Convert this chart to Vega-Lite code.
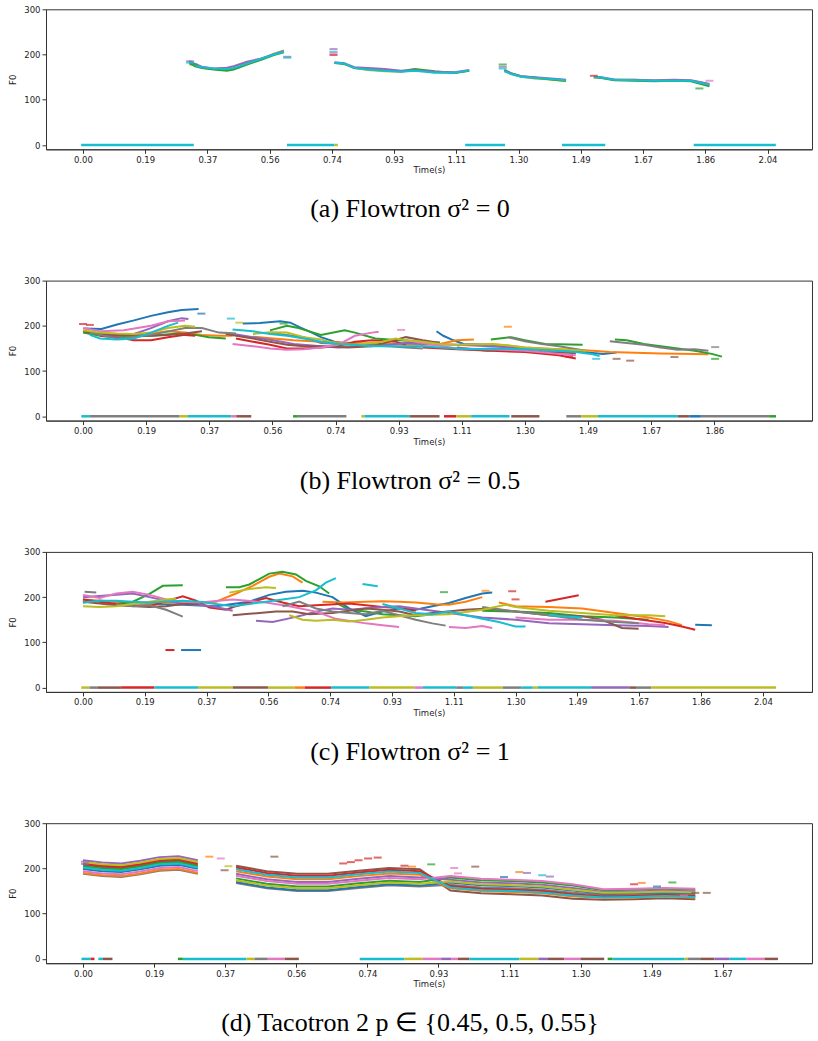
{
"$schema":"https://vega.github.io/schema/vega-lite/v6.json",
"padding":{"left":8,"top":4.3,"right":5,"bottom":5},
"spacing":52.3,
"config":{
 "view":{"stroke":"#333","strokeWidth":1},
 "axis":{"labelFont":"DejaVu Sans","labelFontSize":8.5,"labelColor":"#222","titleFont":"DejaVu Sans","titleFontSize":8.5,"titleFontWeight":"normal","titleColor":"#222","tickColor":"#333","domainColor":"#333","tickSize":4,"labelPadding":2,"grid":false,"labelFlush":false,"labelOverlap":false},
 "axisY":{"titlePadding":6},
 "axisX":{"titlePadding":2},
 "title":{"font":"Liberation Serif","fontSize":26,"fontWeight":"normal","color":"#000","orient":"bottom","anchor":"middle","offset":22,"dx":-19}
},
"datasets":{
"za":[{"s":9,"a":-0.005,"b":0.331},{"s":9,"a":0.609,"b":0.75},{"s":8,"a":0.75,"b":0.761},{"s":9,"a":1.141,"b":1.26},{"s":9,"a":1.43,"b":1.559},{"s":9,"a":1.823,"b":2.068}],
"la":[
{"s":8,"g":1,"t":0.318,"f":184},{"s":8,"g":1,"t":0.335,"f":177},{"s":8,"g":1,"t":0.355,"f":171},{"s":8,"g":1,"t":0.39,"f":168},{"s":8,"g":1,"t":0.43,"f":166},{"s":8,"g":1,"t":0.45,"f":168},{"s":8,"g":1,"t":0.49,"f":181},{"s":8,"g":1,"t":0.53,"f":189},{"s":8,"g":1,"t":0.57,"f":202},{"s":8,"g":1,"t":0.6,"f":209},
{"s":8,"g":2,"t":0.751,"f":182},{"s":8,"g":2,"t":0.78,"f":180},{"s":8,"g":2,"t":0.81,"f":170},{"s":8,"g":2,"t":0.85,"f":166},{"s":8,"g":2,"t":0.9,"f":163},{"s":8,"g":2,"t":0.95,"f":162},{"s":8,"g":2,"t":0.99,"f":166},{"s":8,"g":2,"t":1.05,"f":161},{"s":8,"g":2,"t":1.11,"f":160},{"s":8,"g":2,"t":1.153,"f":164},
{"s":8,"g":3,"t":1.258,"f":164},{"s":8,"g":3,"t":1.278,"f":157},{"s":8,"g":3,"t":1.308,"f":151},{"s":8,"g":3,"t":1.348,"f":147},{"s":8,"g":3,"t":1.397,"f":145},{"s":8,"g":3,"t":1.442,"f":141},
{"s":8,"g":4,"t":1.525,"f":150},{"s":8,"g":4,"t":1.547,"f":149},{"s":8,"g":4,"t":1.586,"f":144},{"s":8,"g":4,"t":1.646,"f":144},{"s":8,"g":4,"t":1.705,"f":142},{"s":8,"g":4,"t":1.765,"f":143},{"s":8,"g":4,"t":1.815,"f":142},{"s":8,"g":4,"t":1.845,"f":138},{"s":8,"g":4,"t":1.87,"f":134},
{"s":2,"g":1,"t":0.318,"f":181},{"s":2,"g":1,"t":0.335,"f":174},{"s":2,"g":1,"t":0.355,"f":170},{"s":2,"g":1,"t":0.39,"f":167},{"s":2,"g":1,"t":0.43,"f":164},{"s":2,"g":1,"t":0.45,"f":167},{"s":2,"g":1,"t":0.49,"f":178},{"s":2,"g":1,"t":0.53,"f":188},{"s":2,"g":1,"t":0.57,"f":199},{"s":2,"g":1,"t":0.6,"f":205},
{"s":2,"g":2,"t":0.751,"f":181},{"s":2,"g":2,"t":0.78,"f":179},{"s":2,"g":2,"t":0.81,"f":171},{"s":2,"g":2,"t":0.85,"f":168},{"s":2,"g":2,"t":0.9,"f":165},{"s":2,"g":2,"t":0.95,"f":163},{"s":2,"g":2,"t":0.99,"f":168},{"s":2,"g":2,"t":1.05,"f":163},{"s":2,"g":2,"t":1.11,"f":159},{"s":2,"g":2,"t":1.153,"f":164},
{"s":2,"g":3,"t":1.258,"f":166},{"s":2,"g":3,"t":1.278,"f":159},{"s":2,"g":3,"t":1.308,"f":152},{"s":2,"g":3,"t":1.348,"f":149},{"s":2,"g":3,"t":1.397,"f":145},{"s":2,"g":3,"t":1.442,"f":142},
{"s":2,"g":4,"t":1.525,"f":150},{"s":2,"g":4,"t":1.547,"f":148},{"s":2,"g":4,"t":1.586,"f":143},{"s":2,"g":4,"t":1.646,"f":142},{"s":2,"g":4,"t":1.705,"f":141},{"s":2,"g":4,"t":1.765,"f":142},{"s":2,"g":4,"t":1.815,"f":141},{"s":2,"g":4,"t":1.845,"f":135},{"s":2,"g":4,"t":1.87,"f":130},
{"s":4,"g":1,"t":0.318,"f":186},{"s":4,"g":1,"t":0.335,"f":179},{"s":4,"g":1,"t":0.355,"f":173},{"s":4,"g":1,"t":0.39,"f":169},{"s":4,"g":1,"t":0.43,"f":171},{"s":4,"g":1,"t":0.45,"f":174},{"s":4,"g":1,"t":0.49,"f":184},{"s":4,"g":1,"t":0.53,"f":191},{"s":4,"g":1,"t":0.57,"f":201},{"s":4,"g":1,"t":0.6,"f":208},
{"s":4,"g":2,"t":0.751,"f":183},{"s":4,"g":2,"t":0.78,"f":181},{"s":4,"g":2,"t":0.81,"f":172},{"s":4,"g":2,"t":0.85,"f":170},{"s":4,"g":2,"t":0.9,"f":168},{"s":4,"g":2,"t":0.95,"f":164},{"s":4,"g":2,"t":0.99,"f":165},{"s":4,"g":2,"t":1.05,"f":162},{"s":4,"g":2,"t":1.11,"f":161},{"s":4,"g":2,"t":1.153,"f":166},
{"s":4,"g":3,"t":1.258,"f":165},{"s":4,"g":3,"t":1.278,"f":158},{"s":4,"g":3,"t":1.308,"f":152},{"s":4,"g":3,"t":1.348,"f":150},{"s":4,"g":3,"t":1.397,"f":147},{"s":4,"g":3,"t":1.442,"f":144},
{"s":4,"g":4,"t":1.525,"f":151},{"s":4,"g":4,"t":1.547,"f":150},{"s":4,"g":4,"t":1.586,"f":145},{"s":4,"g":4,"t":1.646,"f":144},{"s":4,"g":4,"t":1.705,"f":143},{"s":4,"g":4,"t":1.765,"f":144},{"s":4,"g":4,"t":1.815,"f":143},{"s":4,"g":4,"t":1.845,"f":139},{"s":4,"g":4,"t":1.87,"f":135},
{"s":9,"g":1,"t":0.318,"f":183},{"s":9,"g":1,"t":0.335,"f":176},{"s":9,"g":1,"t":0.355,"f":172},{"s":9,"g":1,"t":0.39,"f":169},{"s":9,"g":1,"t":0.43,"f":168},{"s":9,"g":1,"t":0.45,"f":170},{"s":9,"g":1,"t":0.49,"f":180},{"s":9,"g":1,"t":0.53,"f":190},{"s":9,"g":1,"t":0.57,"f":200},{"s":9,"g":1,"t":0.6,"f":206},
{"s":9,"g":2,"t":0.751,"f":182},{"s":9,"g":2,"t":0.78,"f":180},{"s":9,"g":2,"t":0.81,"f":170},{"s":9,"g":2,"t":0.85,"f":167},{"s":9,"g":2,"t":0.9,"f":164},{"s":9,"g":2,"t":0.95,"f":162},{"s":9,"g":2,"t":0.99,"f":164},{"s":9,"g":2,"t":1.05,"f":160},{"s":9,"g":2,"t":1.11,"f":160},{"s":9,"g":2,"t":1.153,"f":165},
{"s":9,"g":3,"t":1.258,"f":163},{"s":9,"g":3,"t":1.278,"f":157},{"s":9,"g":3,"t":1.308,"f":151},{"s":9,"g":3,"t":1.348,"f":148},{"s":9,"g":3,"t":1.397,"f":146},{"s":9,"g":3,"t":1.442,"f":143},
{"s":9,"g":4,"t":1.525,"f":150},{"s":9,"g":4,"t":1.547,"f":149},{"s":9,"g":4,"t":1.586,"f":144},{"s":9,"g":4,"t":1.646,"f":143},{"s":9,"g":4,"t":1.705,"f":142},{"s":9,"g":4,"t":1.765,"f":142},{"s":9,"g":4,"t":1.815,"f":142},{"s":9,"g":4,"t":1.845,"f":137},{"s":9,"g":4,"t":1.87,"f":133}
],
"ka":[{"s":4,"t":0.32,"f":185},{"s":9,"t":0.32,"f":182},{"s":2,"t":0.33,"f":178},{"s":4,"t":0.61,"f":195},{"s":9,"t":0.61,"f":193},{"s":4,"t":0.748,"f":212},{"s":9,"t":0.748,"f":206},{"s":6,"t":0.748,"f":203},{"s":3,"t":0.748,"f":199},{"s":2,"t":1.253,"f":178},{"s":4,"t":1.253,"f":173},{"s":9,"t":1.253,"f":169},{"s":3,"t":1.525,"f":153},{"s":2,"t":1.84,"f":125},{"s":6,"t":1.87,"f":142}],
"zb":[{"s":9,"a":-0.005,"b":0.02},{"s":7,"a":0.02,"b":0.284},{"s":8,"a":0.284,"b":0.309},{"s":9,"a":0.309,"b":0.436},{"s":6,"a":0.436,"b":0.451},{"s":5,"a":0.451,"b":0.495},{"s":2,"a":0.618,"b":0.632},{"s":7,"a":0.632,"b":0.775},{"s":8,"a":0.819,"b":0.828},{"s":9,"a":0.828,"b":0.961},{"s":5,"a":0.961,"b":1.049},{"s":3,"a":1.062,"b":1.098},{"s":8,"a":1.098,"b":1.142},{"s":9,"a":1.142,"b":1.255},{"s":5,"a":1.26,"b":1.343},{"s":7,"a":1.422,"b":1.466},{"s":8,"a":1.466,"b":1.515},{"s":9,"a":1.515,"b":1.75},{"s":5,"a":1.75,"b":1.784},{"s":0,"a":1.784,"b":1.818},{"s":7,"a":1.818,"b":2.019},{"s":2,"a":2.019,"b":2.039}],
"lb":[
{"s":0,"g":1,"t":0.005,"f":194},{"s":0,"g":1,"t":0.054,"f":193},{"s":0,"g":1,"t":0.1,"f":203},{"s":0,"g":1,"t":0.15,"f":212},{"s":0,"g":1,"t":0.2,"f":222},{"s":0,"g":1,"t":0.25,"f":230},{"s":0,"g":1,"t":0.29,"f":235},{"s":0,"g":1,"t":0.34,"f":237},
{"s":0,"g":2,"t":0.47,"f":205},{"s":0,"g":2,"t":0.52,"f":206},{"s":0,"g":2,"t":0.58,"f":210},{"s":0,"g":2,"t":0.61,"f":207},{"s":0,"g":2,"t":0.64,"f":196},{"s":0,"g":2,"t":0.67,"f":186},{"s":0,"g":2,"t":0.7,"f":175},{"s":0,"g":2,"t":0.74,"f":165},{"s":0,"g":2,"t":0.78,"f":160},{"s":0,"g":2,"t":0.85,"f":158},{"s":0,"g":2,"t":0.93,"f":160},{"s":0,"g":2,"t":0.98,"f":165},
{"s":0,"g":3,"t":1.04,"f":188},{"s":0,"g":3,"t":1.06,"f":178},{"s":0,"g":3,"t":1.09,"f":168},{"s":0,"g":3,"t":1.12,"f":160},{"s":0,"g":3,"t":1.2,"f":158},{"s":0,"g":3,"t":1.25,"f":152},{"s":0,"g":3,"t":1.3,"f":150},{"s":0,"g":3,"t":1.4,"f":146},{"s":0,"g":3,"t":1.45,"f":144},{"s":0,"g":3,"t":1.5,"f":140},{"s":0,"g":3,"t":1.53,"f":138},{"s":0,"g":3,"t":1.57,"f":141},
{"s":1,"g":1,"t":0.0,"f":188},{"s":1,"g":1,"t":0.05,"f":182},{"s":1,"g":1,"t":0.1,"f":180},{"s":1,"g":1,"t":0.15,"f":181},{"s":1,"g":1,"t":0.2,"f":183},{"s":1,"g":1,"t":0.25,"f":188},{"s":1,"g":1,"t":0.3,"f":185},{"s":1,"g":1,"t":0.35,"f":180},{"s":1,"g":1,"t":0.4,"f":178},{"s":1,"g":1,"t":0.44,"f":178},
{"s":1,"g":2,"t":0.5,"f":176},{"s":1,"g":2,"t":0.56,"f":172},{"s":1,"g":2,"t":0.62,"f":168},{"s":1,"g":2,"t":0.7,"f":165},{"s":1,"g":2,"t":0.8,"f":162},{"s":1,"g":2,"t":0.9,"f":160},{"s":1,"g":2,"t":1.0,"f":158},{"s":1,"g":2,"t":1.05,"f":160},{"s":1,"g":2,"t":1.1,"f":168},{"s":1,"g":2,"t":1.15,"f":170},
{"s":1,"g":3,"t":1.2,"f":160},{"s":1,"g":3,"t":1.3,"f":152},{"s":1,"g":3,"t":1.4,"f":148},{"s":1,"g":3,"t":1.5,"f":145},{"s":1,"g":3,"t":1.55,"f":142},{"s":1,"g":3,"t":1.6,"f":141},{"s":1,"g":3,"t":1.7,"f":139},{"s":1,"g":3,"t":1.8,"f":138},{"s":1,"g":3,"t":1.84,"f":137},
{"s":2,"g":1,"t":0.0,"f":185},{"s":2,"g":1,"t":0.05,"f":178},{"s":2,"g":1,"t":0.1,"f":175},{"s":2,"g":1,"t":0.2,"f":178},{"s":2,"g":1,"t":0.28,"f":183},{"s":2,"g":1,"t":0.33,"f":180},{"s":2,"g":1,"t":0.37,"f":175},{"s":2,"g":1,"t":0.42,"f":172},
{"s":2,"g":2,"t":0.55,"f":190},{"s":2,"g":2,"t":0.6,"f":200},{"s":2,"g":2,"t":0.63,"f":196},{"s":2,"g":2,"t":0.7,"f":180},{"s":2,"g":2,"t":0.77,"f":190},{"s":2,"g":2,"t":0.8,"f":185},{"s":2,"g":2,"t":0.86,"f":172},{"s":2,"g":2,"t":0.93,"f":168},{"s":2,"g":2,"t":1.0,"f":165},{"s":2,"g":2,"t":1.05,"f":163},
{"s":2,"g":3,"t":1.2,"f":170},{"s":2,"g":3,"t":1.26,"f":175},{"s":2,"g":3,"t":1.3,"f":168},{"s":2,"g":3,"t":1.36,"f":160},{"s":2,"g":3,"t":1.47,"f":158},
{"s":2,"g":4,"t":1.565,"f":170},{"s":2,"g":4,"t":1.6,"f":168},{"s":2,"g":4,"t":1.65,"f":160},{"s":2,"g":4,"t":1.7,"f":155},{"s":2,"g":4,"t":1.75,"f":150},{"s":2,"g":4,"t":1.8,"f":145},{"s":2,"g":4,"t":1.85,"f":138},{"s":2,"g":4,"t":1.88,"f":132},
{"s":3,"g":1,"t":0.05,"f":178},{"s":3,"g":1,"t":0.1,"f":175},{"s":3,"g":1,"t":0.15,"f":168},{"s":3,"g":1,"t":0.2,"f":168},{"s":3,"g":1,"t":0.25,"f":175},{"s":3,"g":1,"t":0.3,"f":180},{"s":3,"g":1,"t":0.33,"f":178},
{"s":3,"g":2,"t":0.45,"f":172},{"s":3,"g":2,"t":0.5,"f":165},{"s":3,"g":2,"t":0.55,"f":158},{"s":3,"g":2,"t":0.6,"f":150},{"s":3,"g":2,"t":0.65,"f":150},{"s":3,"g":2,"t":0.7,"f":152},{"s":3,"g":2,"t":0.75,"f":155},{"s":3,"g":2,"t":0.8,"f":165},{"s":3,"g":2,"t":0.85,"f":168},{"s":3,"g":2,"t":0.92,"f":165},{"s":3,"g":2,"t":0.95,"f":158},
{"s":3,"g":3,"t":1.0,"f":152},{"s":3,"g":3,"t":1.1,"f":148},{"s":3,"g":3,"t":1.2,"f":145},{"s":3,"g":3,"t":1.3,"f":142},{"s":3,"g":3,"t":1.4,"f":135},{"s":3,"g":3,"t":1.45,"f":128},
{"s":4,"g":1,"t":0.0,"f":190},{"s":4,"g":1,"t":0.05,"f":180},{"s":4,"g":1,"t":0.1,"f":178},{"s":4,"g":1,"t":0.15,"f":182},{"s":4,"g":1,"t":0.2,"f":195},{"s":4,"g":1,"t":0.25,"f":210},{"s":4,"g":1,"t":0.29,"f":217},{"s":4,"g":1,"t":0.31,"f":215},
{"s":4,"g":2,"t":0.42,"f":185},{"s":4,"g":2,"t":0.5,"f":175},{"s":4,"g":2,"t":0.56,"f":168},{"s":4,"g":2,"t":0.62,"f":160},{"s":4,"g":2,"t":0.7,"f":155},{"s":4,"g":2,"t":0.75,"f":152},{"s":4,"g":2,"t":0.8,"f":155},{"s":4,"g":2,"t":0.9,"f":158},{"s":4,"g":2,"t":0.95,"f":162},{"s":4,"g":2,"t":1.0,"f":160},{"s":4,"g":2,"t":1.1,"f":158},{"s":4,"g":2,"t":1.2,"f":155},{"s":4,"g":2,"t":1.3,"f":150},{"s":4,"g":2,"t":1.4,"f":145},{"s":4,"g":2,"t":1.45,"f":140},
{"s":5,"g":1,"t":0.0,"f":188},{"s":5,"g":1,"t":0.05,"f":182},{"s":5,"g":1,"t":0.1,"f":180},{"s":5,"g":1,"t":0.15,"f":180},{"s":5,"g":1,"t":0.2,"f":178},{"s":5,"g":1,"t":0.25,"f":180},{"s":5,"g":1,"t":0.3,"f":183},{"s":5,"g":1,"t":0.35,"f":188},
{"s":5,"g":2,"t":0.42,"f":182},{"s":5,"g":2,"t":0.5,"f":172},{"s":5,"g":2,"t":0.55,"f":165},{"s":5,"g":2,"t":0.6,"f":158},{"s":5,"g":2,"t":0.65,"f":155},{"s":5,"g":2,"t":0.7,"f":155},{"s":5,"g":2,"t":0.78,"f":152},{"s":5,"g":2,"t":0.85,"f":155},{"s":5,"g":2,"t":0.9,"f":165},{"s":5,"g":2,"t":0.95,"f":175},{"s":5,"g":2,"t":1.0,"f":168},{"s":5,"g":2,"t":1.05,"f":162},
{"s":5,"g":3,"t":1.1,"f":152},{"s":5,"g":3,"t":1.19,"f":145},{"s":5,"g":3,"t":1.25,"f":148},{"s":5,"g":3,"t":1.35,"f":142},{"s":5,"g":3,"t":1.45,"f":140},
{"s":6,"g":1,"t":0.0,"f":195},{"s":6,"g":1,"t":0.05,"f":188},{"s":6,"g":1,"t":0.12,"f":190},{"s":6,"g":1,"t":0.2,"f":200},{"s":6,"g":1,"t":0.25,"f":210},{"s":6,"g":1,"t":0.3,"f":212},
{"s":6,"g":2,"t":0.44,"f":160},{"s":6,"g":2,"t":0.5,"f":155},{"s":6,"g":2,"t":0.55,"f":150},{"s":6,"g":2,"t":0.6,"f":147},{"s":6,"g":2,"t":0.65,"f":148},{"s":6,"g":2,"t":0.7,"f":152},{"s":6,"g":2,"t":0.75,"f":158},{"s":6,"g":2,"t":0.8,"f":178},{"s":6,"g":2,"t":0.85,"f":185},{"s":6,"g":2,"t":0.87,"f":187},
{"s":6,"g":3,"t":0.95,"f":168},{"s":6,"g":3,"t":1.0,"f":162},{"s":6,"g":3,"t":1.1,"f":150},{"s":6,"g":3,"t":1.2,"f":148},{"s":6,"g":3,"t":1.3,"f":145},{"s":6,"g":3,"t":1.4,"f":138},{"s":6,"g":3,"t":1.45,"f":135},
{"s":7,"g":1,"t":0.02,"f":185},{"s":7,"g":1,"t":0.1,"f":172},{"s":7,"g":1,"t":0.2,"f":180},{"s":7,"g":1,"t":0.3,"f":195},{"s":7,"g":1,"t":0.35,"f":195},{"s":7,"g":1,"t":0.4,"f":185},{"s":7,"g":1,"t":0.45,"f":183},
{"s":7,"g":2,"t":0.55,"f":185},{"s":7,"g":2,"t":0.6,"f":180},{"s":7,"g":2,"t":0.65,"f":175},{"s":7,"g":2,"t":0.7,"f":162},{"s":7,"g":2,"t":0.8,"f":158},{"s":7,"g":2,"t":0.9,"f":155},{"s":7,"g":2,"t":0.95,"f":152},{"s":7,"g":2,"t":1.0,"f":150},
{"s":7,"g":3,"t":1.25,"f":175},{"s":7,"g":3,"t":1.3,"f":166},{"s":7,"g":3,"t":1.35,"f":160},{"s":7,"g":3,"t":1.4,"f":155},{"s":7,"g":3,"t":1.48,"f":145},
{"s":7,"g":4,"t":1.55,"f":166},{"s":7,"g":4,"t":1.6,"f":162},{"s":7,"g":4,"t":1.65,"f":158},{"s":7,"g":4,"t":1.7,"f":152},{"s":7,"g":4,"t":1.75,"f":147},{"s":7,"g":4,"t":1.8,"f":148},{"s":7,"g":4,"t":1.84,"f":145},
{"s":8,"g":1,"t":0.0,"f":190},{"s":8,"g":1,"t":0.05,"f":185},{"s":8,"g":1,"t":0.1,"f":183},{"s":8,"g":1,"t":0.15,"f":182},{"s":8,"g":1,"t":0.2,"f":185},{"s":8,"g":1,"t":0.25,"f":195},{"s":8,"g":1,"t":0.3,"f":200},{"s":8,"g":1,"t":0.33,"f":198},
{"s":8,"g":2,"t":0.5,"f":182},{"s":8,"g":2,"t":0.55,"f":186},{"s":8,"g":2,"t":0.6,"f":185},{"s":8,"g":2,"t":0.65,"f":175},{"s":8,"g":2,"t":0.7,"f":170},{"s":8,"g":2,"t":0.75,"f":160},{"s":8,"g":2,"t":0.8,"f":158},{"s":8,"g":2,"t":0.88,"f":165},{"s":8,"g":2,"t":0.92,"f":172},{"s":8,"g":2,"t":0.95,"f":168},{"s":8,"g":2,"t":1.0,"f":165},{"s":8,"g":2,"t":1.05,"f":160},{"s":8,"g":2,"t":1.1,"f":158},{"s":8,"g":2,"t":1.2,"f":160},{"s":8,"g":2,"t":1.25,"f":157},{"s":8,"g":2,"t":1.3,"f":152},{"s":8,"g":2,"t":1.35,"f":150},{"s":8,"g":2,"t":1.48,"f":145},
{"s":9,"g":1,"t":0.02,"f":180},{"s":9,"g":1,"t":0.05,"f":172},{"s":9,"g":1,"t":0.1,"f":170},{"s":9,"g":1,"t":0.15,"f":172},{"s":9,"g":1,"t":0.2,"f":185},{"s":9,"g":1,"t":0.25,"f":200},{"s":9,"g":1,"t":0.28,"f":207},
{"s":9,"g":2,"t":0.44,"f":192},{"s":9,"g":2,"t":0.5,"f":188},{"s":9,"g":2,"t":0.55,"f":182},{"s":9,"g":2,"t":0.6,"f":178},{"s":9,"g":2,"t":0.65,"f":172},{"s":9,"g":2,"t":0.7,"f":165},{"s":9,"g":2,"t":0.75,"f":160},{"s":9,"g":2,"t":0.8,"f":158},{"s":9,"g":2,"t":0.85,"f":155},{"s":9,"g":2,"t":0.9,"f":155},{"s":9,"g":2,"t":0.95,"f":155},{"s":9,"g":2,"t":1.0,"f":155},{"s":9,"g":2,"t":1.05,"f":152},{"s":9,"g":2,"t":1.1,"f":150},{"s":9,"g":2,"t":1.15,"f":148},{"s":9,"g":2,"t":1.2,"f":150},{"s":9,"g":2,"t":1.3,"f":148},{"s":9,"g":2,"t":1.4,"f":145},{"s":9,"g":2,"t":1.45,"f":142},{"s":9,"g":2,"t":1.5,"f":137},{"s":9,"g":2,"t":1.52,"f":133}
],
"kb":[{"s":0,"t":0.348,"f":227},{"s":1,"t":1.25,"f":198},{"s":2,"t":0.59,"f":205},{"s":2,"t":1.86,"f":127},{"s":3,"t":0.0,"f":204},{"s":3,"t":0.02,"f":202},{"s":3,"t":1.43,"f":132},{"s":5,"t":1.57,"f":127},{"s":5,"t":1.61,"f":123},{"s":5,"t":1.74,"f":131},{"s":6,"t":0.936,"f":191},{"s":7,"t":1.86,"f":153},{"s":8,"t":0.46,"f":207},{"s":9,"t":0.435,"f":216},{"s":9,"t":1.51,"f":127}],
"zc":[{"s":8,"a":-0.005,"b":0.02},{"s":7,"a":0.02,"b":0.045},{"s":5,"a":0.045,"b":0.115},{"s":3,"a":0.115,"b":0.215},{"s":9,"a":0.215,"b":0.346},{"s":8,"a":0.346,"b":0.451},{"s":5,"a":0.451,"b":0.556},{"s":8,"a":0.556,"b":0.636},{"s":1,"a":0.636,"b":0.666},{"s":3,"a":0.666,"b":0.746},{"s":9,"a":0.746,"b":0.861},{"s":8,"a":0.861,"b":0.997},{"s":6,"a":0.997,"b":1.022},{"s":9,"a":1.022,"b":1.122},{"s":7,"a":1.122,"b":1.142},{"s":9,"a":1.142,"b":1.172},{"s":8,"a":1.172,"b":1.262},{"s":7,"a":1.262,"b":1.317},{"s":9,"a":1.317,"b":1.352},{"s":8,"a":1.352,"b":1.367},{"s":9,"a":1.367,"b":1.527},{"s":4,"a":1.527,"b":1.642},{"s":5,"a":1.642,"b":1.662},{"s":7,"a":1.662,"b":1.708},{"s":8,"a":1.708,"b":2.083}],
"lc":[
{"s":0,"g":1,"t":0.0,"f":188},{"s":0,"g":1,"t":0.05,"f":192},{"s":0,"g":1,"t":0.1,"f":190},{"s":0,"g":1,"t":0.15,"f":188},{"s":0,"g":1,"t":0.2,"f":185},{"s":0,"g":1,"t":0.3,"f":183},{"s":0,"g":1,"t":0.4,"f":180},{"s":0,"g":1,"t":0.5,"f":190},{"s":0,"g":1,"t":0.56,"f":205},{"s":0,"g":1,"t":0.61,"f":212},{"s":0,"g":1,"t":0.66,"f":214},{"s":0,"g":1,"t":0.7,"f":210},{"s":0,"g":1,"t":0.75,"f":200},{"s":0,"g":1,"t":0.8,"f":175},{"s":0,"g":1,"t":0.85,"f":158},{"s":0,"g":1,"t":0.9,"f":168},{"s":0,"g":1,"t":0.95,"f":175},{"s":0,"g":1,"t":1.0,"f":172},{"s":0,"g":1,"t":1.05,"f":180},{"s":0,"g":1,"t":1.1,"f":187},{"s":0,"g":1,"t":1.15,"f":198},{"s":0,"g":1,"t":1.2,"f":208},{"s":0,"g":1,"t":1.23,"f":210},
{"s":0,"g":2,"t":0.295,"f":83},{"s":0,"g":2,"t":0.355,"f":83},
{"s":0,"g":3,"t":1.84,"f":139},{"s":0,"g":3,"t":1.89,"f":138},
{"s":1,"g":1,"t":0.0,"f":195},{"s":1,"g":1,"t":0.1,"f":190},{"s":1,"g":1,"t":0.2,"f":185},{"s":1,"g":1,"t":0.3,"f":190},{"s":1,"g":1,"t":0.35,"f":187},{"s":1,"g":1,"t":0.4,"f":190},{"s":1,"g":1,"t":0.46,"f":208},{"s":1,"g":1,"t":0.51,"f":225},{"s":1,"g":1,"t":0.56,"f":245},{"s":1,"g":1,"t":0.59,"f":252},{"s":1,"g":1,"t":0.63,"f":246},{"s":1,"g":1,"t":0.66,"f":232},
{"s":1,"g":2,"t":0.72,"f":190},{"s":1,"g":2,"t":0.78,"f":188},{"s":1,"g":2,"t":0.85,"f":190},{"s":1,"g":2,"t":0.9,"f":191},{"s":1,"g":2,"t":0.95,"f":190},{"s":1,"g":2,"t":1.0,"f":188},{"s":1,"g":2,"t":1.06,"f":184},{"s":1,"g":2,"t":1.1,"f":183},{"s":1,"g":2,"t":1.15,"f":190},{"s":1,"g":2,"t":1.2,"f":200},
{"s":1,"g":3,"t":1.25,"f":188},{"s":1,"g":3,"t":1.3,"f":180},{"s":1,"g":3,"t":1.4,"f":178},{"s":1,"g":3,"t":1.5,"f":175},{"s":1,"g":3,"t":1.6,"f":165},{"s":1,"g":3,"t":1.7,"f":155},{"s":1,"g":3,"t":1.76,"f":147},{"s":1,"g":3,"t":1.8,"f":138},
{"s":2,"g":1,"t":0.1,"f":185},{"s":2,"g":1,"t":0.15,"f":190},{"s":2,"g":1,"t":0.2,"f":207},{"s":2,"g":1,"t":0.24,"f":225},{"s":2,"g":1,"t":0.3,"f":226},
{"s":2,"g":2,"t":0.43,"f":222},{"s":2,"g":2,"t":0.47,"f":222},{"s":2,"g":2,"t":0.5,"f":228},{"s":2,"g":2,"t":0.53,"f":240},{"s":2,"g":2,"t":0.56,"f":252},{"s":2,"g":2,"t":0.6,"f":256},{"s":2,"g":2,"t":0.64,"f":250},{"s":2,"g":2,"t":0.67,"f":236},{"s":2,"g":2,"t":0.71,"f":224},{"s":2,"g":2,"t":0.74,"f":208},
{"s":2,"g":3,"t":0.76,"f":188},{"s":2,"g":3,"t":0.8,"f":172},{"s":2,"g":3,"t":0.85,"f":168},{"s":2,"g":3,"t":0.9,"f":162},{"s":2,"g":3,"t":0.95,"f":160},{"s":2,"g":3,"t":1.0,"f":158},{"s":2,"g":3,"t":1.05,"f":162},
{"s":2,"g":4,"t":1.2,"f":170},{"s":2,"g":4,"t":1.3,"f":168},{"s":2,"g":4,"t":1.4,"f":165},{"s":2,"g":4,"t":1.5,"f":158},{"s":2,"g":4,"t":1.6,"f":155},{"s":2,"g":4,"t":1.7,"f":150},
{"s":3,"g":1,"t":0.0,"f":195},{"s":3,"g":1,"t":0.1,"f":185},{"s":3,"g":1,"t":0.2,"f":180},{"s":3,"g":1,"t":0.3,"f":202},{"s":3,"g":1,"t":0.34,"f":192},{"s":3,"g":1,"t":0.38,"f":177},{"s":3,"g":1,"t":0.43,"f":172},{"s":3,"g":1,"t":0.46,"f":180},{"s":3,"g":1,"t":0.55,"f":198},{"s":3,"g":1,"t":0.6,"f":188},{"s":3,"g":1,"t":0.65,"f":180},{"s":3,"g":1,"t":0.7,"f":182},{"s":3,"g":1,"t":0.8,"f":186},{"s":3,"g":1,"t":0.85,"f":182},{"s":3,"g":1,"t":0.9,"f":178},{"s":3,"g":1,"t":0.95,"f":176},{"s":3,"g":1,"t":1.0,"f":170},
{"s":3,"g":2,"t":0.248,"f":83},{"s":3,"g":2,"t":0.275,"f":83},
{"s":3,"g":3,"t":1.39,"f":190},{"s":3,"g":3,"t":1.44,"f":197},{"s":3,"g":3,"t":1.49,"f":204},
{"s":3,"g":4,"t":1.6,"f":160},{"s":3,"g":4,"t":1.66,"f":152},{"s":3,"g":4,"t":1.75,"f":143},{"s":3,"g":4,"t":1.8,"f":135},{"s":3,"g":4,"t":1.84,"f":128},
{"s":4,"g":1,"t":0.0,"f":200},{"s":4,"g":1,"t":0.1,"f":205},{"s":4,"g":1,"t":0.15,"f":208},{"s":4,"g":1,"t":0.2,"f":200},{"s":4,"g":1,"t":0.25,"f":192},{"s":4,"g":1,"t":0.3,"f":185},{"s":4,"g":1,"t":0.35,"f":183},{"s":4,"g":1,"t":0.4,"f":178},{"s":4,"g":1,"t":0.45,"f":170},
{"s":4,"g":2,"t":0.52,"f":148},{"s":4,"g":2,"t":0.57,"f":145},{"s":4,"g":2,"t":0.62,"f":153},{"s":4,"g":2,"t":0.66,"f":160},{"s":4,"g":2,"t":0.7,"f":168},{"s":4,"g":2,"t":0.75,"f":175},{"s":4,"g":2,"t":0.8,"f":172},{"s":4,"g":2,"t":0.9,"f":178},{"s":4,"g":2,"t":0.95,"f":180},{"s":4,"g":2,"t":1.0,"f":175},{"s":4,"g":2,"t":1.1,"f":165},{"s":4,"g":2,"t":1.2,"f":155},{"s":4,"g":2,"t":1.3,"f":150},{"s":4,"g":2,"t":1.4,"f":142},{"s":4,"g":2,"t":1.5,"f":140},{"s":4,"g":2,"t":1.6,"f":138},{"s":4,"g":2,"t":1.7,"f":136},{"s":4,"g":2,"t":1.76,"f":134},
{"s":5,"g":1,"t":0.0,"f":190},{"s":5,"g":1,"t":0.1,"f":182},{"s":5,"g":1,"t":0.2,"f":178},{"s":5,"g":1,"t":0.25,"f":180},{"s":5,"g":1,"t":0.3,"f":185},{"s":5,"g":1,"t":0.35,"f":185},
{"s":5,"g":2,"t":0.45,"f":160},{"s":5,"g":2,"t":0.5,"f":163},{"s":5,"g":2,"t":0.58,"f":168},{"s":5,"g":2,"t":0.63,"f":168},{"s":5,"g":2,"t":0.68,"f":162},{"s":5,"g":2,"t":0.75,"f":165},{"s":5,"g":2,"t":0.85,"f":175},{"s":5,"g":2,"t":0.9,"f":172},{"s":5,"g":2,"t":0.95,"f":168},{"s":5,"g":2,"t":1.0,"f":160},{"s":5,"g":2,"t":1.05,"f":165},{"s":5,"g":2,"t":1.15,"f":172},{"s":5,"g":2,"t":1.22,"f":175},{"s":5,"g":2,"t":1.3,"f":168},{"s":5,"g":2,"t":1.4,"f":160},{"s":5,"g":2,"t":1.5,"f":158},{"s":5,"g":2,"t":1.56,"f":150},{"s":5,"g":2,"t":1.62,"f":132},{"s":5,"g":2,"t":1.67,"f":130},
{"s":6,"g":1,"t":0.0,"f":205},{"s":6,"g":1,"t":0.05,"f":198},{"s":6,"g":1,"t":0.1,"f":208},{"s":6,"g":1,"t":0.15,"f":212},{"s":6,"g":1,"t":0.2,"f":205},{"s":6,"g":1,"t":0.25,"f":195},{"s":6,"g":1,"t":0.3,"f":190},{"s":6,"g":1,"t":0.35,"f":188},{"s":6,"g":1,"t":0.45,"f":195},{"s":6,"g":1,"t":0.55,"f":188},{"s":6,"g":1,"t":0.62,"f":180},{"s":6,"g":1,"t":0.7,"f":168},{"s":6,"g":1,"t":0.76,"f":152},{"s":6,"g":1,"t":0.85,"f":142},{"s":6,"g":1,"t":0.9,"f":138},{"s":6,"g":1,"t":0.95,"f":134},
{"s":6,"g":2,"t":1.1,"f":134},{"s":6,"g":2,"t":1.15,"f":132},{"s":6,"g":2,"t":1.2,"f":136},{"s":6,"g":2,"t":1.23,"f":132},
{"s":6,"g":3,"t":1.3,"f":155},{"s":6,"g":3,"t":1.4,"f":150},{"s":6,"g":3,"t":1.5,"f":150},{"s":6,"g":3,"t":1.6,"f":148},{"s":6,"g":3,"t":1.7,"f":140},{"s":6,"g":3,"t":1.75,"f":138},
{"s":7,"g":1,"t":0.005,"f":212},{"s":7,"g":1,"t":0.04,"f":210},
{"s":7,"g":2,"t":0.1,"f":185},{"s":7,"g":2,"t":0.15,"f":180},{"s":7,"g":2,"t":0.2,"f":182},{"s":7,"g":2,"t":0.25,"f":172},{"s":7,"g":2,"t":0.28,"f":163},{"s":7,"g":2,"t":0.3,"f":157},
{"s":7,"g":3,"t":0.6,"f":180},{"s":7,"g":3,"t":0.65,"f":190},{"s":7,"g":3,"t":0.7,"f":175},{"s":7,"g":3,"t":0.75,"f":168},{"s":7,"g":3,"t":0.8,"f":165},{"s":7,"g":3,"t":0.85,"f":162},{"s":7,"g":3,"t":0.9,"f":170},{"s":7,"g":3,"t":0.95,"f":160},{"s":7,"g":3,"t":1.0,"f":150},{"s":7,"g":3,"t":1.05,"f":142},{"s":7,"g":3,"t":1.09,"f":137},
{"s":7,"g":4,"t":1.2,"f":178},{"s":7,"g":4,"t":1.3,"f":168},{"s":7,"g":4,"t":1.4,"f":160},{"s":7,"g":4,"t":1.5,"f":150},{"s":7,"g":4,"t":1.6,"f":145},{"s":7,"g":4,"t":1.67,"f":142},
{"s":8,"g":1,"t":0.0,"f":180},{"s":8,"g":1,"t":0.05,"f":178},{"s":8,"g":1,"t":0.1,"f":180},{"s":8,"g":1,"t":0.15,"f":185},{"s":8,"g":1,"t":0.2,"f":190},{"s":8,"g":1,"t":0.25,"f":195},{"s":8,"g":1,"t":0.28,"f":197},
{"s":8,"g":2,"t":0.44,"f":210},{"s":8,"g":2,"t":0.5,"f":218},{"s":8,"g":2,"t":0.55,"f":222},{"s":8,"g":2,"t":0.58,"f":220},
{"s":8,"g":3,"t":0.62,"f":160},{"s":8,"g":3,"t":0.66,"f":150},{"s":8,"g":3,"t":0.7,"f":148},{"s":8,"g":3,"t":0.75,"f":150},{"s":8,"g":3,"t":0.8,"f":146},{"s":8,"g":3,"t":0.85,"f":150},{"s":8,"g":3,"t":0.9,"f":155},{"s":8,"g":3,"t":0.95,"f":158},{"s":8,"g":3,"t":1.0,"f":160},{"s":8,"g":3,"t":1.1,"f":162},{"s":8,"g":3,"t":1.2,"f":172},{"s":8,"g":3,"t":1.27,"f":183},{"s":8,"g":3,"t":1.3,"f":178},{"s":8,"g":3,"t":1.4,"f":170},{"s":8,"g":3,"t":1.5,"f":165},{"s":8,"g":3,"t":1.6,"f":160},{"s":8,"g":3,"t":1.7,"f":160},{"s":8,"g":3,"t":1.75,"f":158},
{"s":9,"g":1,"t":0.0,"f":188},{"s":9,"g":1,"t":0.05,"f":192},{"s":9,"g":1,"t":0.1,"f":192},{"s":9,"g":1,"t":0.15,"f":190},{"s":9,"g":1,"t":0.2,"f":188},{"s":9,"g":1,"t":0.25,"f":190},{"s":9,"g":1,"t":0.3,"f":192},{"s":9,"g":1,"t":0.35,"f":190},{"s":9,"g":1,"t":0.4,"f":185},{"s":9,"g":1,"t":0.45,"f":180},{"s":9,"g":1,"t":0.5,"f":185},{"s":9,"g":1,"t":0.55,"f":190},{"s":9,"g":1,"t":0.6,"f":195},{"s":9,"g":1,"t":0.65,"f":200},{"s":9,"g":1,"t":0.7,"f":215},{"s":9,"g":1,"t":0.73,"f":232},{"s":9,"g":1,"t":0.76,"f":242},
{"s":9,"g":2,"t":0.84,"f":229},{"s":9,"g":2,"t":0.886,"f":224},
{"s":9,"g":3,"t":0.9,"f":185},{"s":9,"g":3,"t":0.95,"f":175},{"s":9,"g":3,"t":1.0,"f":165},{"s":9,"g":3,"t":1.05,"f":162},{"s":9,"g":3,"t":1.1,"f":168},{"s":9,"g":3,"t":1.15,"f":160},{"s":9,"g":3,"t":1.2,"f":152},{"s":9,"g":3,"t":1.25,"f":145},{"s":9,"g":3,"t":1.3,"f":135},{"s":9,"g":3,"t":1.33,"f":135},
{"s":9,"g":4,"t":1.4,"f":160},{"s":9,"g":4,"t":1.5,"f":155}
],
"kc":[{"s":2,"t":1.085,"f":211},{"s":1,"t":1.21,"f":214},{"s":3,"t":1.29,"f":213},{"s":3,"t":1.3,"f":195}],
"zd":[{"s":9,"a":-0.004,"b":0.02},{"s":3,"a":0.02,"b":0.03},{"s":9,"a":0.04,"b":0.052},{"s":5,"a":0.052,"b":0.077},{"s":2,"a":0.248,"b":0.261},{"s":9,"a":0.261,"b":0.427},{"s":8,"a":0.427,"b":0.448},{"s":7,"a":0.448,"b":0.483},{"s":6,"a":0.483,"b":0.527},{"s":5,"a":0.527,"b":0.564},{"s":9,"a":0.723,"b":0.84},{"s":8,"a":0.84,"b":0.888},{"s":6,"a":0.888,"b":0.936},{"s":4,"a":0.936,"b":0.962},{"s":6,"a":0.962,"b":0.98},{"s":5,"a":0.98,"b":1.01},{"s":9,"a":1.01,"b":1.14},{"s":8,"a":1.14,"b":1.19},{"s":4,"a":1.19,"b":1.215},{"s":5,"a":1.215,"b":1.258},{"s":6,"a":1.258,"b":1.3},{"s":5,"a":1.3,"b":1.362},{"s":2,"a":1.371,"b":1.384},{"s":9,"a":1.384,"b":1.572},{"s":8,"a":1.572,"b":1.58},{"s":7,"a":1.58,"b":1.615},{"s":5,"a":1.615,"b":1.65},{"s":4,"a":1.65,"b":1.69},{"s":9,"a":1.69,"b":1.733},{"s":6,"a":1.733,"b":1.781},{"s":5,"a":1.781,"b":1.816}],
"ld":[
{"s":7,"g":1,"t":0,"f":188},{"s":7,"g":1,"t":0.05,"f":183},{"s":7,"g":1,"t":0.1,"f":181},{"s":7,"g":1,"t":0.15,"f":187},{"s":7,"g":1,"t":0.2,"f":195},{"s":7,"g":1,"t":0.25,"f":197},{"s":7,"g":1,"t":0.3,"f":188},
{"s":7,"g":2,"t":0.4,"f":168},{"s":7,"g":2,"t":0.48,"f":156},{"s":7,"g":2,"t":0.56,"f":150},{"s":7,"g":2,"t":0.64,"f":150},{"s":7,"g":2,"t":0.72,"f":157},{"s":7,"g":2,"t":0.8,"f":163},{"s":7,"g":2,"t":0.88,"f":160},{"s":7,"g":2,"t":0.96,"f":164},{"s":7,"g":2,"t":1.04,"f":158},{"s":7,"g":2,"t":1.12,"f":156},{"s":7,"g":2,"t":1.2,"f":153},{"s":7,"g":2,"t":1.28,"f":146},{"s":7,"g":2,"t":1.36,"f":141},{"s":7,"g":2,"t":1.44,"f":142},{"s":7,"g":2,"t":1.52,"f":144},{"s":7,"g":2,"t":1.6,"f":142},
{"s":5,"g":1,"t":0,"f":208},{"s":5,"g":1,"t":0.05,"f":203},{"s":5,"g":1,"t":0.1,"f":201},{"s":5,"g":1,"t":0.15,"f":207},{"s":5,"g":1,"t":0.2,"f":215},{"s":5,"g":1,"t":0.25,"f":217},{"s":5,"g":1,"t":0.3,"f":208},
{"s":5,"g":2,"t":0.4,"f":206},{"s":5,"g":2,"t":0.48,"f":194},{"s":5,"g":2,"t":0.56,"f":188},{"s":5,"g":2,"t":0.64,"f":188},{"s":5,"g":2,"t":0.72,"f":195},{"s":5,"g":2,"t":0.8,"f":201},{"s":5,"g":2,"t":0.88,"f":198},{"s":5,"g":2,"t":0.96,"f":151},{"s":5,"g":2,"t":1.04,"f":145},{"s":5,"g":2,"t":1.12,"f":143},{"s":5,"g":2,"t":1.2,"f":140},{"s":5,"g":2,"t":1.28,"f":133},{"s":5,"g":2,"t":1.36,"f":131},{"s":5,"g":2,"t":1.44,"f":132},{"s":5,"g":2,"t":1.52,"f":134},{"s":5,"g":2,"t":1.6,"f":132},
{"s":0,"g":1,"t":0,"f":199},{"s":0,"g":1,"t":0.05,"f":194},{"s":0,"g":1,"t":0.1,"f":192},{"s":0,"g":1,"t":0.15,"f":198},{"s":0,"g":1,"t":0.2,"f":206},{"s":0,"g":1,"t":0.25,"f":208},{"s":0,"g":1,"t":0.3,"f":199},
{"s":0,"g":2,"t":0.4,"f":170},{"s":0,"g":2,"t":0.48,"f":158},{"s":0,"g":2,"t":0.56,"f":152},{"s":0,"g":2,"t":0.64,"f":152},{"s":0,"g":2,"t":0.72,"f":159},{"s":0,"g":2,"t":0.8,"f":165},{"s":0,"g":2,"t":0.88,"f":162},{"s":0,"g":2,"t":0.96,"f":169},{"s":0,"g":2,"t":1.04,"f":163},{"s":0,"g":2,"t":1.12,"f":161},{"s":0,"g":2,"t":1.2,"f":158},{"s":0,"g":2,"t":1.28,"f":151},{"s":0,"g":2,"t":1.36,"f":144},{"s":0,"g":2,"t":1.44,"f":145},{"s":0,"g":2,"t":1.52,"f":147},{"s":0,"g":2,"t":1.6,"f":145},
{"s":1,"g":1,"t":0,"f":190},{"s":1,"g":1,"t":0.05,"f":185},{"s":1,"g":1,"t":0.1,"f":183},{"s":1,"g":1,"t":0.15,"f":189},{"s":1,"g":1,"t":0.2,"f":197},{"s":1,"g":1,"t":0.25,"f":199},{"s":1,"g":1,"t":0.3,"f":190},
{"s":1,"g":2,"t":0.4,"f":194},{"s":1,"g":2,"t":0.48,"f":182},{"s":1,"g":2,"t":0.56,"f":176},{"s":1,"g":2,"t":0.64,"f":176},{"s":1,"g":2,"t":0.72,"f":183},{"s":1,"g":2,"t":0.8,"f":189},{"s":1,"g":2,"t":0.88,"f":186},{"s":1,"g":2,"t":0.96,"f":156},{"s":1,"g":2,"t":1.04,"f":150},{"s":1,"g":2,"t":1.12,"f":148},{"s":1,"g":2,"t":1.2,"f":145},{"s":1,"g":2,"t":1.28,"f":138},{"s":1,"g":2,"t":1.36,"f":135},{"s":1,"g":2,"t":1.44,"f":136},{"s":1,"g":2,"t":1.52,"f":138},{"s":1,"g":2,"t":1.6,"f":136},
{"s":2,"g":1,"t":0,"f":205},{"s":2,"g":1,"t":0.05,"f":200},{"s":2,"g":1,"t":0.1,"f":198},{"s":2,"g":1,"t":0.15,"f":204},{"s":2,"g":1,"t":0.2,"f":212},{"s":2,"g":1,"t":0.25,"f":214},{"s":2,"g":1,"t":0.3,"f":205},
{"s":2,"g":2,"t":0.4,"f":178},{"s":2,"g":2,"t":0.48,"f":166},{"s":2,"g":2,"t":0.56,"f":160},{"s":2,"g":2,"t":0.64,"f":160},{"s":2,"g":2,"t":0.72,"f":167},{"s":2,"g":2,"t":0.8,"f":173},{"s":2,"g":2,"t":0.88,"f":170},{"s":2,"g":2,"t":0.96,"f":180},{"s":2,"g":2,"t":1.04,"f":174},{"s":2,"g":2,"t":1.12,"f":172},{"s":2,"g":2,"t":1.2,"f":169},{"s":2,"g":2,"t":1.28,"f":162},{"s":2,"g":2,"t":1.36,"f":152},{"s":2,"g":2,"t":1.44,"f":153},{"s":2,"g":2,"t":1.52,"f":155},{"s":2,"g":2,"t":1.6,"f":153},
{"s":3,"g":1,"t":0,"f":211},{"s":3,"g":1,"t":0.05,"f":206},{"s":3,"g":1,"t":0.1,"f":204},{"s":3,"g":1,"t":0.15,"f":210},{"s":3,"g":1,"t":0.2,"f":218},{"s":3,"g":1,"t":0.25,"f":220},{"s":3,"g":1,"t":0.3,"f":211},
{"s":3,"g":2,"t":0.4,"f":202},{"s":3,"g":2,"t":0.48,"f":190},{"s":3,"g":2,"t":0.56,"f":184},{"s":3,"g":2,"t":0.64,"f":184},{"s":3,"g":2,"t":0.72,"f":191},{"s":3,"g":2,"t":0.8,"f":197},{"s":3,"g":2,"t":0.88,"f":194},{"s":3,"g":2,"t":0.96,"f":161},{"s":3,"g":2,"t":1.04,"f":155},{"s":3,"g":2,"t":1.12,"f":153},{"s":3,"g":2,"t":1.2,"f":150},{"s":3,"g":2,"t":1.28,"f":143},{"s":3,"g":2,"t":1.36,"f":138},{"s":3,"g":2,"t":1.44,"f":139},{"s":3,"g":2,"t":1.52,"f":141},{"s":3,"g":2,"t":1.6,"f":139},
{"s":4,"g":1,"t":0,"f":218},{"s":4,"g":1,"t":0.05,"f":213},{"s":4,"g":1,"t":0.1,"f":211},{"s":4,"g":1,"t":0.15,"f":217},{"s":4,"g":1,"t":0.2,"f":225},{"s":4,"g":1,"t":0.25,"f":227},{"s":4,"g":1,"t":0.3,"f":218},
{"s":4,"g":2,"t":0.4,"f":188},{"s":4,"g":2,"t":0.48,"f":176},{"s":4,"g":2,"t":0.56,"f":170},{"s":4,"g":2,"t":0.64,"f":170},{"s":4,"g":2,"t":0.72,"f":177},{"s":4,"g":2,"t":0.8,"f":183},{"s":4,"g":2,"t":0.88,"f":180},{"s":4,"g":2,"t":0.96,"f":175},{"s":4,"g":2,"t":1.04,"f":169},{"s":4,"g":2,"t":1.12,"f":167},{"s":4,"g":2,"t":1.2,"f":164},{"s":4,"g":2,"t":1.28,"f":157},{"s":4,"g":2,"t":1.36,"f":148},{"s":4,"g":2,"t":1.44,"f":149},{"s":4,"g":2,"t":1.52,"f":151},{"s":4,"g":2,"t":1.6,"f":149},
{"s":6,"g":1,"t":0,"f":194},{"s":6,"g":1,"t":0.05,"f":189},{"s":6,"g":1,"t":0.1,"f":187},{"s":6,"g":1,"t":0.15,"f":193},{"s":6,"g":1,"t":0.2,"f":201},{"s":6,"g":1,"t":0.25,"f":203},{"s":6,"g":1,"t":0.3,"f":194},
{"s":6,"g":2,"t":0.4,"f":184},{"s":6,"g":2,"t":0.48,"f":172},{"s":6,"g":2,"t":0.56,"f":166},{"s":6,"g":2,"t":0.64,"f":166},{"s":6,"g":2,"t":0.72,"f":173},{"s":6,"g":2,"t":0.8,"f":179},{"s":6,"g":2,"t":0.88,"f":176},{"s":6,"g":2,"t":0.96,"f":183},{"s":6,"g":2,"t":1.04,"f":177},{"s":6,"g":2,"t":1.12,"f":175},{"s":6,"g":2,"t":1.2,"f":172},{"s":6,"g":2,"t":1.28,"f":165},{"s":6,"g":2,"t":1.36,"f":154},{"s":6,"g":2,"t":1.44,"f":155},{"s":6,"g":2,"t":1.52,"f":157},{"s":6,"g":2,"t":1.6,"f":155},
{"s":8,"g":1,"t":0,"f":214},{"s":8,"g":1,"t":0.05,"f":209},{"s":8,"g":1,"t":0.1,"f":207},{"s":8,"g":1,"t":0.15,"f":213},{"s":8,"g":1,"t":0.2,"f":221},{"s":8,"g":1,"t":0.25,"f":223},{"s":8,"g":1,"t":0.3,"f":214},
{"s":8,"g":2,"t":0.4,"f":174},{"s":8,"g":2,"t":0.48,"f":162},{"s":8,"g":2,"t":0.56,"f":156},{"s":8,"g":2,"t":0.64,"f":156},{"s":8,"g":2,"t":0.72,"f":163},{"s":8,"g":2,"t":0.8,"f":169},{"s":8,"g":2,"t":0.88,"f":166},{"s":8,"g":2,"t":0.96,"f":171},{"s":8,"g":2,"t":1.04,"f":165},{"s":8,"g":2,"t":1.12,"f":163},{"s":8,"g":2,"t":1.2,"f":160},{"s":8,"g":2,"t":1.28,"f":153},{"s":8,"g":2,"t":1.36,"f":146},{"s":8,"g":2,"t":1.44,"f":147},{"s":8,"g":2,"t":1.52,"f":149},{"s":8,"g":2,"t":1.6,"f":147},
{"s":9,"g":1,"t":0,"f":202},{"s":9,"g":1,"t":0.05,"f":197},{"s":9,"g":1,"t":0.1,"f":195},{"s":9,"g":1,"t":0.15,"f":201},{"s":9,"g":1,"t":0.2,"f":209},{"s":9,"g":1,"t":0.25,"f":211},{"s":9,"g":1,"t":0.3,"f":202},
{"s":9,"g":2,"t":0.4,"f":198},{"s":9,"g":2,"t":0.48,"f":186},{"s":9,"g":2,"t":0.56,"f":180},{"s":9,"g":2,"t":0.64,"f":180},{"s":9,"g":2,"t":0.72,"f":187},{"s":9,"g":2,"t":0.8,"f":193},{"s":9,"g":2,"t":0.88,"f":190},{"s":9,"g":2,"t":0.96,"f":158},{"s":9,"g":2,"t":1.04,"f":152},{"s":9,"g":2,"t":1.12,"f":150},{"s":9,"g":2,"t":1.2,"f":147},{"s":9,"g":2,"t":1.28,"f":140},{"s":9,"g":2,"t":1.36,"f":136},{"s":9,"g":2,"t":1.44,"f":137},{"s":9,"g":2,"t":1.52,"f":139},{"s":9,"g":2,"t":1.6,"f":137}
],
"kd":[{"s":4,"t":0.005,"f":215},{"s":4,"t":0.005,"f":210},{"s":1,"t":0.33,"f":226},{"s":6,"t":0.36,"f":222},{"s":5,"t":0.37,"f":196},{"s":8,"t":0.38,"f":205},{"s":5,"t":0.5,"f":226},{"s":3,"t":0.68,"f":211},{"s":3,"t":0.7,"f":214},{"s":3,"t":0.72,"f":218},{"s":3,"t":0.745,"f":222},{"s":3,"t":0.77,"f":224},{"s":1,"t":0.86,"f":204},{"s":3,"t":0.84,"f":206},{"s":2,"t":0.91,"f":209},{"s":6,"t":0.97,"f":201},{"s":5,"t":1.025,"f":204},{"s":6,"t":0.98,"f":189},{"s":0,"t":1.1,"f":181},{"s":1,"t":1.14,"f":192},{"s":4,"t":1.16,"f":190},{"s":9,"t":1.2,"f":185},{"s":4,"t":1.22,"f":182},{"s":3,"t":1.44,"f":165},{"s":1,"t":1.46,"f":168},{"s":2,"t":1.54,"f":169},{"s":0,"t":1.5,"f":160},{"s":5,"t":1.6,"f":146},{"s":5,"t":1.63,"f":146},{"s":6,"t":1.57,"f":140}]
},
"vconcat":[
{"width":766,"height":140,"title":{"text":"(a) Flowtron σ² = 0"},
 "layer":[
  {"data":{"name":"za"},"mark":{"type":"rule","strokeWidth":2.5},"encoding":{
    "x":{"field":"a","type":"quantitative","title":"Time(s)","scale":{"domain":[-0.11,2.176],"nice":false,"zero":false},"axis":{"values":[0,0.18576,0.37152,0.55728,0.74304,0.9288,1.11456,1.30032,1.48608,1.67184,1.8576,2.04336],"format":".2f"}},
    "x2":{"field":"b"},
    "y":{"datum":0,"type":"quantitative","title":"F0","scale":{"domain":[-9.5,300],"nice":false,"zero":false},"axis":{"values":[0,50,100,150,200,250,300]}},
    "color":{"field":"s","type":"nominal","scale":{"domain":[0,1,2,3,4,5,6,7,8,9],"range":["#1f77b4","#ff7f0e","#2ca02c","#d62728","#9467bd","#8c564b","#e377c2","#7f7f7f","#bcbd22","#17becf"]},"legend":null}}},
  {"data":{"name":"la"},"mark":{"type":"line","strokeWidth":2},"encoding":{"x":{"field":"t","type":"quantitative","title":"Time(s)"},"y":{"field":"f","type":"quantitative","title":"F0"},"color":{"field":"s","type":"nominal","legend":null},"detail":{"field":"g"}}},
  {"data":{"name":"ka"},"mark":{"type":"tick","orient":"horizontal","size":8,"thickness":2},"encoding":{"x":{"field":"t","type":"quantitative","title":"Time(s)"},"y":{"field":"f","type":"quantitative","title":"F0"},"color":{"field":"s","type":"nominal","legend":null}}}
 ]},
{"width":766,"height":140,"title":{"text":"(b) Flowtron σ² = 0.5"},
 "layer":[
  {"data":{"name":"zb"},"mark":{"type":"rule","strokeWidth":2.5},"encoding":{
    "x":{"field":"a","type":"quantitative","title":"Time(s)","scale":{"domain":[-0.109,2.145],"nice":false,"zero":false},"axis":{"values":[0,0.18576,0.37152,0.55728,0.74304,0.9288,1.11456,1.30032,1.48608,1.67184,1.8576],"format":".2f"}},
    "x2":{"field":"b"},
    "y":{"datum":0,"type":"quantitative","title":"F0","scale":{"domain":[-9.5,300],"nice":false,"zero":false},"axis":{"values":[0,50,100,150,200,250,300]}},
    "color":{"field":"s","type":"nominal","scale":{"domain":[0,1,2,3,4,5,6,7,8,9],"range":["#1f77b4","#ff7f0e","#2ca02c","#d62728","#9467bd","#8c564b","#e377c2","#7f7f7f","#bcbd22","#17becf"]},"legend":null}}},
  {"data":{"name":"lb"},"mark":{"type":"line","strokeWidth":2},"encoding":{"x":{"field":"t","type":"quantitative","title":"Time(s)"},"y":{"field":"f","type":"quantitative","title":"F0"},"color":{"field":"s","type":"nominal","legend":null},"detail":{"field":"g"}}},
  {"data":{"name":"kb"},"mark":{"type":"tick","orient":"horizontal","size":8,"thickness":2},"encoding":{"x":{"field":"t","type":"quantitative","title":"Time(s)"},"y":{"field":"f","type":"quantitative","title":"F0"},"color":{"field":"s","type":"nominal","legend":null}}}
 ]},
{"width":766,"height":140,"title":{"text":"(c) Flowtron σ² = 1"},
 "layer":[
  {"data":{"name":"zc"},"mark":{"type":"rule","strokeWidth":2.5},"encoding":{
    "x":{"field":"a","type":"quantitative","title":"Time(s)","scale":{"domain":[-0.111,2.191],"nice":false,"zero":false},"axis":{"values":[0,0.18576,0.37152,0.55728,0.74304,0.9288,1.11456,1.30032,1.48608,1.67184,1.8576,2.04336],"format":".2f"}},
    "x2":{"field":"b"},
    "y":{"datum":0,"type":"quantitative","title":"F0","scale":{"domain":[-9.5,300],"nice":false,"zero":false},"axis":{"values":[0,50,100,150,200,250,300]}},
    "color":{"field":"s","type":"nominal","scale":{"domain":[0,1,2,3,4,5,6,7,8,9],"range":["#1f77b4","#ff7f0e","#2ca02c","#d62728","#9467bd","#8c564b","#e377c2","#7f7f7f","#bcbd22","#17becf"]},"legend":null}}},
  {"data":{"name":"lc"},"mark":{"type":"line","strokeWidth":2},"encoding":{"x":{"field":"t","type":"quantitative","title":"Time(s)"},"y":{"field":"f","type":"quantitative","title":"F0"},"color":{"field":"s","type":"nominal","legend":null},"detail":{"field":"g"}}},
  {"data":{"name":"kc"},"mark":{"type":"tick","orient":"horizontal","size":8,"thickness":2},"encoding":{"x":{"field":"t","type":"quantitative","title":"Time(s)"},"y":{"field":"f","type":"quantitative","title":"F0"},"color":{"field":"s","type":"nominal","legend":null}}}
 ]},
{"width":766,"height":140,"title":{"text":"(d) Tacotron 2 p ∈ {0.45, 0.5, 0.55}"},
 "layer":[
  {"data":{"name":"zd"},"mark":{"type":"rule","strokeWidth":2.5},"encoding":{
    "x":{"field":"a","type":"quantitative","title":"Time(s)","scale":{"domain":[-0.0967,1.905],"nice":false,"zero":false},"axis":{"values":[0,0.18576,0.37152,0.55728,0.74304,0.9288,1.11456,1.30032,1.48608,1.67184],"format":".2f"}},
    "x2":{"field":"b"},
    "y":{"datum":0,"type":"quantitative","title":"F0","scale":{"domain":[-9.5,300],"nice":false,"zero":false},"axis":{"values":[0,50,100,150,200,250,300]}},
    "color":{"field":"s","type":"nominal","scale":{"domain":[0,1,2,3,4,5,6,7,8,9],"range":["#1f77b4","#ff7f0e","#2ca02c","#d62728","#9467bd","#8c564b","#e377c2","#7f7f7f","#bcbd22","#17becf"]},"legend":null}}},
  {"data":{"name":"ld"},"mark":{"type":"line","strokeWidth":2},"encoding":{"x":{"field":"t","type":"quantitative","title":"Time(s)"},"y":{"field":"f","type":"quantitative","title":"F0"},"color":{"field":"s","type":"nominal","legend":null},"detail":{"field":"g"}}},
  {"data":{"name":"kd"},"mark":{"type":"tick","orient":"horizontal","size":8,"thickness":2},"encoding":{"x":{"field":"t","type":"quantitative","title":"Time(s)"},"y":{"field":"f","type":"quantitative","title":"F0"},"color":{"field":"s","type":"nominal","legend":null}}}
 ]}
]
}
